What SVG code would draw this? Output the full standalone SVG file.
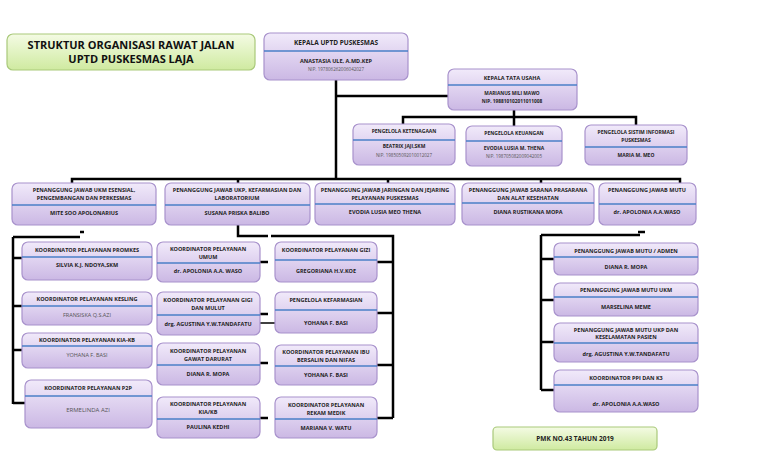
<svg xmlns="http://www.w3.org/2000/svg" width="768" height="466" viewBox="0 0 768 466">
<defs>
<linearGradient id="pg" x1="0" y1="0" x2="0" y2="1"><stop offset="0" stop-color="#f1eafa"/><stop offset="1" stop-color="#cbb8e4"/></linearGradient>
<linearGradient id="gg" x1="0" y1="0" x2="0" y2="1"><stop offset="0" stop-color="#f4fbe4"/><stop offset="1" stop-color="#cfeaa0"/></linearGradient>
</defs>
<style>
.b{fill:url(#pg);stroke:#a892cc;stroke-width:1.2}
.g{fill:url(#gg);stroke:#a9c97a;stroke-width:1.2}
.d{stroke:#4a7fc7;stroke-width:1.5}
text{font-family:"Open Sans","Liberation Sans",sans-serif;text-anchor:middle;fill:#222;font-size:5.5px;font-weight:bold}
.n{font-weight:normal;fill:#555}
.t{font-size:11px;fill:#111}
.c{fill:none;stroke:#000;stroke-width:2.5}
</style>
<rect width="768" height="466" fill="#fff"/>
<g id="connectors" class="c">
<path d="M336 80V180M336 96H448M514 110V117M403 124V117H636V125M514 117V126"/>
<path d="M72 183V179H680V183M238 179V183M388 179V183M541 179V183"/>
<path d="M13 237V404M13 237H80M80 232H84M13 258H22M13 306H22M13 350H22M13 403H25"/>
<path d="M238 225V236H268M271 236H393V418M260 262H268M260 314H268M260 363H268M260 418H268M377 262H393M377 313H393M377 365H393M377 418H393"/>
<path d="M541 235H640M638 232H645M541 235V390M541 259H554M541 300H554M541 342H554M541 390H554"/>
<path d="M170 323H355" stroke-width="1.5"/>
</g>
<g id="title"><rect class="g" x="7" y="34" width="248" height="36" rx="6"/><text class="t" x="131" y="49">STRUKTUR ORGANISASI RAWAT JALAN</text><text class="t" x="131" y="63">UPTD PUSKESMAS LAJA</text></g>
<g id="kepala"><rect class="b" x="264" y="33" width="144" height="47" rx="6"/><line class="d" x1="264" y1="51" x2="408" y2="51"/><text x="336" y="45" style="font-size:6.5px">KEPALA UPTD PUSKESMAS</text><text x="336" y="63">ANASTASIA ULE, A.MD.KEP</text><text class="n" x="336" y="71" style="font-size:4.5px">NIP. 197806262006042027</text></g>
<g id="tu"><rect class="b" x="448" y="69" width="129" height="41" rx="6"/><line class="d" x1="448" y1="85" x2="577" y2="85"/><text x="512" y="80">KEPALA TATA USAHA</text><text x="512" y="95" style="font-size:4.8px">MARIANUS MILI MAWO</text><text x="512" y="103" style="font-size:4.8px">NIP. 198810102011011008</text></g>
<g id="ketenagaan"><rect class="b" x="353" y="124" width="102" height="41" rx="6"/><line class="d" x1="353" y1="140" x2="455" y2="140"/><text x="404" y="133" style="font-size:5px">PENGELOLA KETENAGAAN</text><text x="404" y="148" style="font-size:5px">BEATRIX JAJI,SKM</text><text class="n" x="404" y="157" style="font-size:4.5px">NIP. 198505092010012027</text></g>
<g id="keuangan"><rect class="b" x="466" y="126" width="96" height="40" rx="6"/><line class="d" x1="466" y1="141" x2="562" y2="141"/><text x="514" y="135" style="font-size:5px">PENGELOLA KEUANGAN</text><text x="514" y="150" style="font-size:5px">EVODIA LUSIA M. THENA</text><text class="n" x="514" y="158" style="font-size:4.5px">NIP. 198705082009042005</text></g>
<g id="sistim"><rect class="b" x="585" y="125" width="102" height="40" rx="6"/><line class="d" x1="585" y1="147" x2="687" y2="147"/><text x="636" y="134" style="font-size:5px">PENGELOLA SISTIM INFORMASI</text><text x="636" y="142" style="font-size:5px">PUSKESMAS</text><text x="636" y="157" style="font-size:5px">MARIA M. MEO</text></g>
<g id="ukm"><rect class="b" x="12" y="183" width="144" height="42" rx="6"/><line class="d" x1="12" y1="205" x2="156" y2="205"/><text x="84" y="192">PENANGGUNG JAWAB UKM ESENSIAL,</text><text x="84" y="200">PENGEMBANGAN DAN PERKESMAS</text><text x="84" y="215">MITE SOO APOLONARIUS</text></g>
<g id="ukp"><rect class="b" x="165" y="183" width="145" height="42" rx="6"/><line class="d" x1="165" y1="205" x2="310" y2="205"/><text x="237" y="192">PENANGGUNG JAWAB UKP, KEFARMASIAN DAN</text><text x="237" y="200">LABORATORIUM</text><text x="237" y="215">SUSANA PRISKA BALIBO</text></g>
<g id="jaringan"><rect class="b" x="315" y="183" width="140" height="42" rx="6"/><line class="d" x1="315" y1="204" x2="455" y2="204"/><text x="385" y="192">PENANGGUNG JAWAB JARINGAN DAN JEJARING</text><text x="385" y="200">PELAYANAN PUSKESMAS</text><text x="385" y="214">EVODIA LUSIA MEO THENA</text></g>
<g id="sarana"><rect class="b" x="462" y="183" width="132" height="42" rx="6"/><line class="d" x1="462" y1="203" x2="594" y2="203"/><text x="528" y="192">PENANGGUNG JAWAB SARANA PRASARANA</text><text x="528" y="200">DAN ALAT KESEHATAN</text><text x="528" y="214">DIANA RUSTIKANA MOPA</text></g>
<g id="mutu"><rect class="b" x="599" y="183" width="97" height="42" rx="6"/><line class="d" x1="599" y1="204" x2="696" y2="204"/><text x="647" y="192">PENANGGUNG JAWAB MUTU</text><text x="647" y="214">dr. APOLONIA A.A.WASO</text></g>
<g id="promkes"><rect class="b" x="22" y="242" width="130" height="38" rx="6"/><line class="d" x1="22" y1="257" x2="152" y2="257"/><text x="87" y="252">KOORDINATOR PELAYANAN PROMKES</text><text x="87" y="267">SILVIA K.J. NDOYA,SKM</text></g>
<g id="kesling"><rect class="b" x="22" y="292" width="130" height="33" rx="6"/><line class="d" x1="22" y1="306" x2="152" y2="306"/><text x="87" y="301">KOORDINATOR PELAYANAN KESLING</text><text class="n" x="87" y="317">FRANSISKA Q.S.AZI</text></g>
<g id="kiakb"><rect class="b" x="22" y="333" width="130" height="35" rx="6"/><line class="d" x1="22" y1="346" x2="152" y2="346"/><text x="87" y="342">KOORDINATOR PELAYANAN KIA-KB</text><text class="n" x="87" y="357">YOHANA F. BASI</text></g>
<g id="p2p"><rect class="b" x="25" y="380" width="127" height="48" rx="6"/><line class="d" x1="25" y1="396" x2="152" y2="396"/><text x="88" y="390">KOORDINATOR PELAYANAN P2P</text><text class="n" x="88" y="412" style="font-size:6px">ERMELINDA AZI</text></g>
<g id="umum"><rect class="b" x="157" y="242" width="103" height="40" rx="6"/><line class="d" x1="157" y1="263" x2="260" y2="263"/><text x="208" y="251">KOORDINATOR PELAYANAN</text><text x="208" y="259">UMUM</text><text x="208" y="273">dr. APOLONIA A.A. WASO</text></g>
<g id="gigi"><rect class="b" x="157" y="292" width="103" height="43" rx="6"/><line class="d" x1="157" y1="315" x2="260" y2="315"/><text x="208" y="302">KOORDINATOR PELAYANAN GIGI</text><text x="208" y="310">DAN MULUT</text><text x="208" y="326">drg. AGUSTINA Y.W.TANDAFATU</text></g>
<g id="gawat"><rect class="b" x="157" y="343" width="103" height="42" rx="6"/><line class="d" x1="157" y1="365" x2="260" y2="365"/><text x="208" y="353">KOORDINATOR PELAYANAN</text><text x="208" y="361">GAWAT DARURAT</text><text x="208" y="376">DIANA R. MOPA</text></g>
<g id="kiakb2"><rect class="b" x="157" y="397" width="103" height="41" rx="6"/><line class="d" x1="157" y1="419" x2="260" y2="419"/><text x="208" y="406">KOORDINATOR PELAYANAN</text><text x="208" y="414">KIA/KB</text><text x="208" y="429">PAULINA KEDHI</text></g>
<g id="gizi"><rect class="b" x="275" y="242" width="102" height="40" rx="6"/><line class="d" x1="275" y1="260" x2="377" y2="260"/><text x="326" y="252">KOORDINATOR PELAYANAN GIZI</text><text x="326" y="273">GREGORIANA H.V.KOE</text></g>
<g id="farmasi"><rect class="b" x="275" y="292" width="102" height="41" rx="6"/><line class="d" x1="275" y1="310" x2="377" y2="310"/><text x="326" y="302">PENGELOLA KEFARMASIAN</text><text x="326" y="325">YOHANA F. BASI</text></g>
<g id="ibu"><rect class="b" x="275" y="345" width="102" height="40" rx="6"/><line class="d" x1="275" y1="366" x2="377" y2="366"/><text x="326" y="354">KOORDINATOR PELAYANAN IBU</text><text x="326" y="362">BERSALIN DAN NIFAS</text><text x="326" y="377">YOHANA F.  BASI</text></g>
<g id="rekam"><rect class="b" x="275" y="397" width="102" height="41" rx="6"/><line class="d" x1="275" y1="419" x2="377" y2="419"/><text x="326" y="407">KOORDINATOR PELAYANAN</text><text x="326" y="415">REKAM MEDIK</text><text x="326" y="430">MARIANA V. WATU</text></g>
<g id="admen"><rect class="b" x="554" y="243" width="144" height="32" rx="6"/><line class="d" x1="554" y1="257" x2="698" y2="257"/><text x="626" y="253">PENANGGUNG JAWAB MUTU / ADMEN</text><text x="626" y="269">DIANA R. MOPA</text></g>
<g id="mutuukm"><rect class="b" x="554" y="283" width="144" height="33" rx="6"/><line class="d" x1="554" y1="297" x2="698" y2="297"/><text x="626" y="292">PENANGGUNG JAWAB MUTU UKM</text><text x="626" y="309">MARSELINA MEME</text></g>
<g id="mutuukp"><rect class="b" x="554" y="323" width="144" height="39" rx="6"/><line class="d" x1="554" y1="343" x2="698" y2="343"/><text x="626" y="332">PENANGGUNG JAWAB MUTU UKP DAN</text><text x="626" y="339">KESELAMATAN PASIEN</text><text x="626" y="356">drg. AGUSTINA Y.W.TANDAFATU</text></g>
<g id="ppi"><rect class="b" x="554" y="370" width="144" height="42" rx="6"/><line class="d" x1="554" y1="385" x2="698" y2="385"/><text x="626" y="380">KOORDINATOR PPI DAN K3</text><text x="626" y="406">dr. APOLONIA A.A.WASO</text></g>
<g id="pmk"><rect class="g" x="493" y="427" width="164" height="23" rx="4"/><text x="575" y="441" style="font-size:6.5px">PMK NO.43 TAHUN 2019</text></g>
</svg>
